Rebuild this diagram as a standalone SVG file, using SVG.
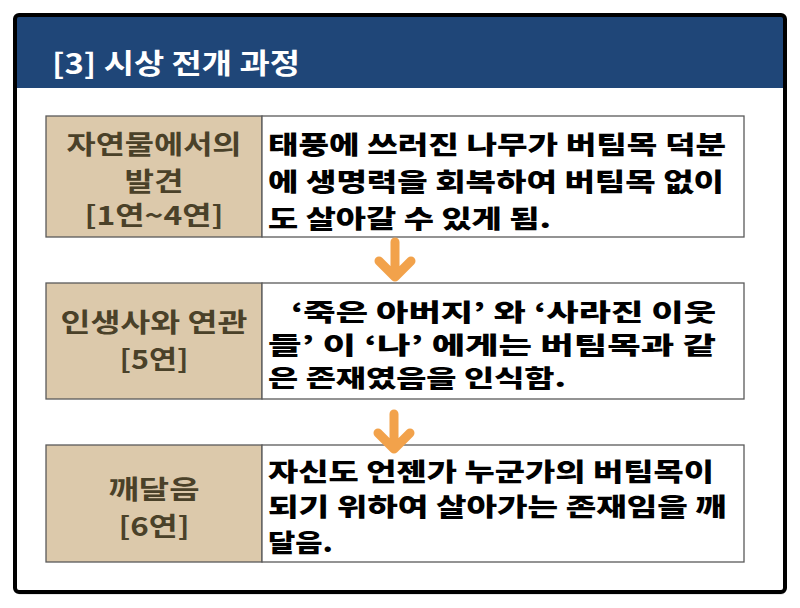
<svg xmlns="http://www.w3.org/2000/svg" width="800" height="608" viewBox="0 0 800 608">
<style>
.lbox{fill:#DCC9AB;stroke:#5a5a5a;stroke-width:1.3}
.rbox{fill:#ffffff;stroke:#5a5a5a;stroke-width:1.3}
.lt{font-family:"Noto Sans CJK KR","Noto Sans",sans-serif;font-size:26px;font-weight:700;fill:#4A4129;text-anchor:middle}
.rt{font-family:"Noto Sans CJK KR","Noto Sans",sans-serif;font-size:25px;font-weight:900;fill:#000000}
.rt2{font-size:24px}
.title{font-family:"Noto Sans CJK KR","Noto Sans",sans-serif;font-size:28px;font-weight:700;fill:#ffffff}
.arr{fill:none;stroke:#F2A24B;stroke-width:9;stroke-linecap:round;stroke-linejoin:round}
</style>
<rect x="0" y="0" width="800" height="608" fill="#ffffff"/>
<g id="frame">
<rect x="17" y="17" width="768" height="578" rx="4" fill="#cfcfcf" opacity="0.5"/>
<rect x="15" y="15" width="770" height="577" rx="4" fill="#ffffff"/>
<rect x="16" y="16" width="768" height="72" fill="#1F4678"/>
<rect x="15" y="15" width="770" height="577" rx="4" fill="none" stroke="#000000" stroke-width="4"/>
</g>
<g id="title">
<text class="title" x="52" y="74" textLength="248" lengthAdjust="spacingAndGlyphs">[3] 시상 전개 과정</text>
</g>
<g id="node1-label">
<rect class="lbox" x="46" y="116" width="216" height="121"/>
<text class="lt" x="154" y="154" textLength="175" lengthAdjust="spacingAndGlyphs">자연물에서의</text>
<text class="lt" x="154" y="191" textLength="59" lengthAdjust="spacingAndGlyphs">발견</text>
<text class="lt" x="154" y="225" textLength="139" lengthAdjust="spacingAndGlyphs">[1연~4연]</text>
</g>
<g id="node1-desc">
<rect class="rbox" x="262" y="116" width="482" height="121"/>
<text class="rt" x="268" y="154" textLength="458" lengthAdjust="spacingAndGlyphs">태풍에 쓰러진 나무가 버팀목 덕분</text>
<text class="rt" x="268" y="191" textLength="456" lengthAdjust="spacingAndGlyphs">에 생명력을 회복하여 버팀목 없이</text>
<text class="rt" x="268" y="228" textLength="283" lengthAdjust="spacingAndGlyphs">도 살아갈 수 있게 됨.</text>
</g>
<g id="node2-label">
<rect class="lbox" x="46" y="283" width="216" height="116"/>
<text class="lt" x="154" y="332" textLength="187" lengthAdjust="spacingAndGlyphs">인생사와 연관</text>
<text class="lt" x="154" y="369" textLength="69" lengthAdjust="spacingAndGlyphs">[5연]</text>
</g>
<g id="node2-desc">
<rect class="rbox" x="262" y="283" width="482" height="116"/>
<text class="rt rt2" x="291" y="321" textLength="425" lengthAdjust="spacingAndGlyphs">‘죽은 아버지’ 와 ‘사라진 이웃</text>
<text class="rt rt2" x="268" y="354" textLength="448" lengthAdjust="spacingAndGlyphs">들’ 이 ‘나’ 에게는 버팀목과 같</text>
<text class="rt rt2" x="268" y="387" textLength="298" lengthAdjust="spacingAndGlyphs">은 존재였음을 인식함.</text>
</g>
<g id="node3-label">
<rect class="lbox" x="46" y="445" width="216" height="117"/>
<text class="lt" x="154" y="499" textLength="91" lengthAdjust="spacingAndGlyphs">깨달음</text>
<text class="lt" x="154" y="536" textLength="71" lengthAdjust="spacingAndGlyphs">[6연]</text>
</g>
<g id="node3-desc">
<rect class="rbox" x="262" y="445" width="482" height="117"/>
<text class="rt" x="268" y="481" textLength="446" lengthAdjust="spacingAndGlyphs">자신도 언젠가 누군가의 버팀목이</text>
<text class="rt" x="268" y="516" textLength="458" lengthAdjust="spacingAndGlyphs">되기 위하여 살아가는 존재임을 깨</text>
<text class="rt" x="268" y="552" textLength="65" lengthAdjust="spacingAndGlyphs">달음.</text>
</g>
<g id="connectors">
<path class="arr" d="M395,242 L395,275 M379,261 L395,277 L411,261"/>
<path class="arr" d="M394,414 L394,447 M378,433 L394,449 L410,433"/>
</g>
</svg>
